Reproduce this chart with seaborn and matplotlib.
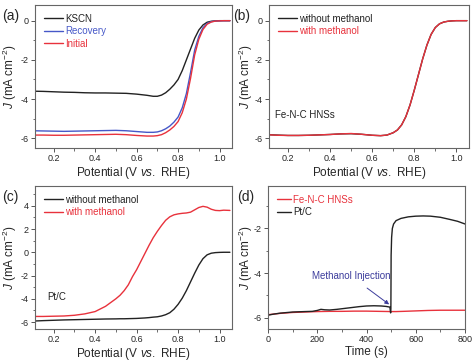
import numpy as np
import pandas as pd
import matplotlib
matplotlib.use("Agg")
import matplotlib.pyplot as plt
from matplotlib.ticker import MultipleLocator
import seaborn as sns

# ---- data ----
# (a) poisoning test
pot_a = [0.10, 0.15, 0.20, 0.25, 0.30, 0.35, 0.40, 0.45, 0.50, 0.55, 0.60, 0.65, 0.68, 0.70,
         0.72, 0.74, 0.76, 0.78, 0.80, 0.82, 0.84, 0.86, 0.88, 0.90, 0.92, 0.94, 0.96, 0.98,
         1.00, 1.02, 1.05]
kscn = [-3.60, -3.61, -3.63, -3.65, -3.66, -3.68, -3.69, -3.69, -3.70, -3.71, -3.75, -3.81,
        -3.86, -3.86, -3.80, -3.68, -3.50, -3.28, -3.00, -2.55, -2.00, -1.45, -0.90, -0.48,
        -0.22, -0.08, -0.03, -0.01, 0.00, 0.00, 0.00]
recovery = [-5.62, -5.63, -5.64, -5.65, -5.64, -5.63, -5.62, -5.61, -5.60, -5.62, -5.66,
            -5.70, -5.70, -5.68, -5.62, -5.52, -5.38, -5.18, -4.92, -4.45, -3.72, -2.65,
            -1.50, -0.80, -0.36, -0.14, -0.05, -0.02, -0.01, 0.00, 0.00]
initial = [-5.84, -5.84, -5.85, -5.85, -5.84, -5.83, -5.82, -5.81, -5.80, -5.82, -5.86,
           -5.89, -5.89, -5.87, -5.82, -5.72, -5.58, -5.40, -5.15, -4.70, -4.00, -2.95,
           -1.75, -0.95, -0.45, -0.18, -0.07, -0.02, -0.01, 0.00, 0.00]

# (b) Fe-N-C HNSs
pot_b = [0.10, 0.15, 0.20, 0.25, 0.30, 0.35, 0.40, 0.45, 0.50, 0.55, 0.60, 0.64, 0.67, 0.70,
         0.72, 0.74, 0.76, 0.78, 0.80, 0.82, 0.84, 0.86, 0.88, 0.90, 0.92, 0.94, 0.96, 0.98,
         1.00, 1.05]
fenc_without = [-5.82, -5.84, -5.86, -5.86, -5.85, -5.83, -5.81, -5.78, -5.77, -5.80, -5.85,
                -5.87, -5.84, -5.72, -5.58, -5.32, -4.90, -4.30, -3.55, -2.75, -1.95, -1.25,
                -0.70, -0.35, -0.16, -0.07, -0.03, -0.01, 0.00, 0.00]
fenc_with = [-5.82, -5.85, -5.86, -5.86, -5.85, -5.83, -5.81, -5.78, -5.76, -5.80, -5.85,
             -5.87, -5.84, -5.72, -5.58, -5.32, -4.90, -4.30, -3.55, -2.75, -1.95, -1.25,
             -0.70, -0.35, -0.16, -0.07, -0.03, -0.01, 0.00, 0.00]

# (c) Pt/C
pot_c = [0.10, 0.15, 0.20, 0.25, 0.30, 0.35, 0.40, 0.45, 0.50, 0.52, 0.54, 0.56, 0.58, 0.60,
         0.62, 0.64, 0.66, 0.68, 0.70, 0.72, 0.74, 0.76, 0.78, 0.80, 0.82, 0.84, 0.86, 0.88,
         0.90, 0.92, 0.94, 0.96, 0.98, 1.00, 1.02, 1.05]
ptc_without = [-5.92, -5.88, -5.85, -5.82, -5.80, -5.78, -5.76, -5.74, -5.73, -5.72, -5.72,
               -5.71, -5.70, -5.69, -5.67, -5.65, -5.62, -5.58, -5.55, -5.48, -5.37, -5.20,
               -4.90, -4.48, -3.95, -3.30, -2.55, -1.80, -1.10, -0.55, -0.22, -0.08, -0.03,
               -0.01, 0.00, 0.00]
ptc_with = [-5.52, -5.52, -5.50, -5.48, -5.42, -5.30, -5.10, -4.65, -4.00, -3.70, -3.30,
            -2.80, -2.10, -1.50, -0.80, -0.10, 0.60, 1.25, 1.80, 2.30, 2.75, 3.05, 3.22,
            3.30, 3.35, 3.38, 3.45, 3.65, 3.85, 3.95, 3.88, 3.70, 3.60, 3.58, 3.62, 3.60]

# (d) chronoamperometry
t_ptc = [0, 25, 50, 100, 150, 180, 200, 215, 230, 250, 280, 310, 340, 370, 400, 430, 460,
         480, 495, 498, 499, 500, 502, 505, 510, 520, 540, 570, 600, 630, 660, 700, 740,
         770, 800]
j_ptc = [-5.88, -5.83, -5.79, -5.74, -5.72, -5.71, -5.67, -5.62, -5.64, -5.65, -5.62, -5.58,
         -5.54, -5.50, -5.47, -5.46, -5.47, -5.49, -5.52, -5.78, -5.60, -3.20, -2.40, -2.00,
         -1.80, -1.65, -1.55, -1.48, -1.45, -1.44, -1.45, -1.50, -1.60, -1.68, -1.80]
t_fenc = [0, 50, 100, 150, 200, 250, 300, 350, 400, 450, 500, 520, 550, 600, 650, 700, 750, 800]
j_fenc = [-5.86, -5.80, -5.76, -5.74, -5.72, -5.71, -5.71, -5.70, -5.70, -5.71, -5.72, -5.72,
          -5.71, -5.69, -5.67, -5.66, -5.66, -5.66]

BLACK = "#222222"
RED = "#e8323c"
BLUE = "#4658c8"
NAVY = "#3c3c9c"

sns.set_style("ticks")
plt.rcParams["font.family"] = ["Liberation Sans", "DejaVu Sans"]
plt.rcParams["mathtext.fontset"] = "custom"
plt.rcParams["mathtext.rm"] = "Liberation Sans"
plt.rcParams["mathtext.it"] = "Liberation Sans:italic"
plt.rcParams["axes.edgecolor"] = "#666666"
plt.rcParams["axes.linewidth"] = 0.8
plt.rcParams["axes.unicode_minus"] = False

fig = plt.figure(figsize=(4.74, 3.62), dpi=100)
W, H = 474, 362


def make_ax(l, t, r, b):
    return fig.add_axes([l / W, 1 - b / H, (r - l) / W, (b - t) / H])


ax_a = make_ax(35, 5, 232, 148)
ax_b = make_ax(269, 5, 469, 148)
ax_c = make_ax(35, 186, 232, 329)
ax_d = make_ax(268, 186, 465, 329)


def draw(ax, x, y, color, label):
    sns.lineplot(x=x, y=y, ax=ax, color=color, label=label, lw=1.0,
                 estimator=None, sort=False)


draw(ax_a, pot_a, kscn, BLACK, "KSCN")
draw(ax_a, pot_a, recovery, BLUE, "Recovery")
draw(ax_a, pot_a, initial, RED, "Initial")

draw(ax_b, pot_b, fenc_without, BLACK, "without methanol")
draw(ax_b, pot_b, fenc_with, RED, "with methanol")

draw(ax_c, pot_c, ptc_without, BLACK, "without methanol")
draw(ax_c, pot_c, ptc_with, RED, "with methanol")

draw(ax_d, t_fenc, j_fenc, RED, "Fe-N-C HNSs")
draw(ax_d, t_ptc, j_ptc, BLACK, "Pt/C")

ylab = r"$J$ (mA cm$^{-2}$)"
xlab = r"Potential (V $\mathit{vs.}$ RHE)"

for ax in (ax_a, ax_b, ax_c):
    ax.set_xlim(0.11, 1.06)
    ax.xaxis.set_major_locator(MultipleLocator(0.2))
    ax.xaxis.set_minor_locator(MultipleLocator(0.1))
    ax.set_xlabel(xlab, fontsize=8.5, labelpad=1)
for ax in (ax_a, ax_b):
    ax.set_ylim(-6.5, 0.8)
ax_c.set_ylim(-6.6, 5.7)
ax_d.set_xlim(0, 800)
ax_d.set_ylim(-6.5, -0.1)
ax_d.xaxis.set_major_locator(MultipleLocator(200))
ax_d.xaxis.set_minor_locator(MultipleLocator(100))
ax_d.set_xlabel("Time (s)", fontsize=8.5, labelpad=1)

for ax in (ax_a, ax_b, ax_c, ax_d):
    ax.yaxis.set_major_locator(MultipleLocator(2))
    ax.yaxis.set_minor_locator(MultipleLocator(1))
    ax.set_ylabel(ylab, fontsize=8.5)
    ax.yaxis.set_label_coords(-0.083 if ax in (ax_a, ax_c) else -0.068, 0.5)
    ax.tick_params(which="major", direction="out", length=3, width=0.7,
                   labelsize=6.5, pad=1.5, color="#555555")
    ax.tick_params(which="minor", direction="out", length=1.8, width=0.6, color="#555555")
    for s in ax.spines.values():
        s.set_visible(True)
    hl = 1.5 if ax is ax_d else 2.0
    leg = ax.legend(loc="upper left", frameon=False, fontsize=7, handlelength=hl,
                    handletextpad=0.2, labelspacing=0.25, borderaxespad=0.5)
    for txt, line in zip(leg.get_texts(), leg.get_lines()):
        txt.set_color(line.get_color())

ax_b.text(0.14, -4.95, "Fe-N-C HNSs", fontsize=7, color=BLACK)
ax_c.text(0.17, -4.1, "Pt/C", fontsize=7, color=BLACK)

ax_d.annotate("Methanol Injection", xy=(492, -5.4), xytext=(339, -4.15),
              fontsize=7, color=NAVY, ha="center", va="center",
              arrowprops=dict(arrowstyle="-|>", color=NAVY, lw=0.7,
                              shrinkA=4, shrinkB=0, mutation_scale=6))

for lbl, x, y in (("(a)", 2, 16), ("(b)", 233, 16), ("(c)", 2, 197), ("(d)", 237, 197)):
    fig.text(x / W, 1 - y / H, lbl, fontsize=10, va="center", ha="left")

fig.savefig("out.png", dpi=100)
